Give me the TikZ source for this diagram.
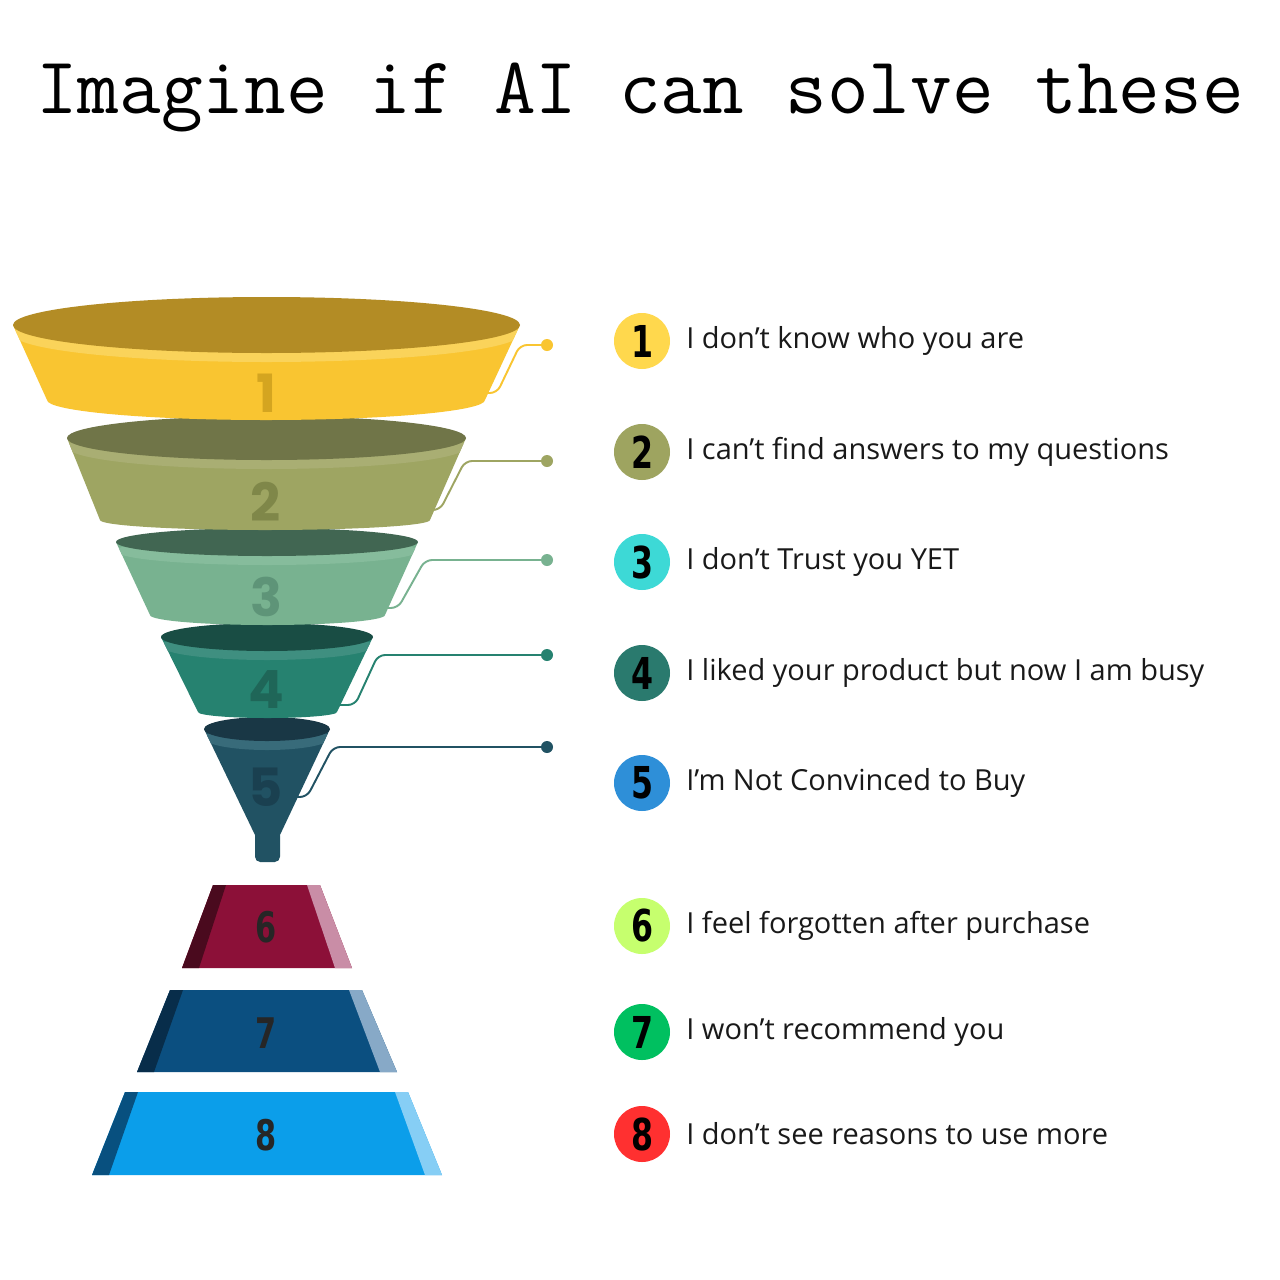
\documentclass[tikz,border=0pt]{standalone}
\usepackage{fontspec}
\setmainfont{Open Sans}
\newfontfamily\numfont[FakeStretch=0.72]{DejaVu Sans}
\newfontfamily\funfont{Poppins}
\begin{document}
\begin{tikzpicture}[x=0.2mm,y=-0.2mm,
  lead/.style={line width=1.1pt,rounded corners=4pt},
  cnum/.style={circle,minimum size=11.2mm,inner sep=0pt,font=\numfont\bfseries\fontsize{25}{25}\selectfont,text=black},
  lbl/.style={anchor=west,inner sep=0pt,font=\fontsize{16.5}{18}\selectfont,text=black!90},
  fnum/.style={font=\funfont\bfseries\fontsize{30}{30}\selectfont},
  pnum/.style={font=\numfont\bfseries\fontsize{24}{24}\selectfont,text=black!85}]
\useasboundingbox[fill=white] (0,0) rectangle (1280,1280);
\node (title) at (640,97) {\ttfamily\fontsize{46}{46}\selectfont Imagine if AI can solve these};
\newcommand{\funseg}[9]{%
  \begin{scope}
  \path[clip] (#2,#1) -- (#6,#5) arc[start angle=180,end angle=0,x radius={(#7-#6)/2},y radius=#8] -- (#3,#1) -- cycle;
  \fill[#9body] (#2,#1-50) rectangle (#3,#5+40);
  \fill[#9band] ({(#2+#3)/2},#1+9) ellipse[x radius={(#3-#2)/2},y radius=#4];
  \end{scope}
  \fill[#9top] ({(#2+#3)/2},#1) ellipse[x radius={(#3-#2)/2},y radius=#4];}
\definecolor{Abody}{HTML}{F9C531}\definecolor{Atop}{HTML}{B38C25}\definecolor{Aband}{HTML}{FAD35A}\definecolor{Anum}{HTML}{D4A520}
\definecolor{Bbody}{HTML}{9EA562}\definecolor{Btop}{HTML}{707548}\definecolor{Bband}{HTML}{A9AE73}\definecolor{Bnum}{HTML}{7F8749}
\definecolor{Cbody}{HTML}{78B290}\definecolor{Ctop}{HTML}{416652}\definecolor{Cband}{HTML}{86BC9C}\definecolor{Cnum}{HTML}{5E9478}
\definecolor{Dbody}{HTML}{268270}\definecolor{Dtop}{HTML}{194D44}\definecolor{Dband}{HTML}{3F8F80}\definecolor{Dnum}{HTML}{1F6658}
\definecolor{Ebody}{HTML}{215263}\definecolor{Etop}{HTML}{193745}\definecolor{Eband}{HTML}{386B7A}\definecolor{Enum}{HTML}{1A4050}
\definecolor{Fm}{HTML}{8C1038}\definecolor{Fd}{HTML}{4A0A1E}\definecolor{Fl}{HTML}{C98DA6}
\definecolor{Gm}{HTML}{0B4F80}\definecolor{Gd}{HTML}{082D4A}\definecolor{Gl}{HTML}{87A9C7}
\definecolor{Hm}{HTML}{0B9EEA}\definecolor{Hd}{HTML}{08507F}\definecolor{Hl}{HTML}{86CEF5}
\fill[Ebody,rounded corners=3pt] (255,830) -- (255,862) -- (280,862) -- (280,830) -- cycle;
\funseg{729}{204}{330}{12}{835}{255}{280}{3}{E}
\funseg{637}{161}{373}{14}{712}{198}{337}{6}{D}
\funseg{542}{116}{418}{14}{615}{150}{385}{10}{C}
\funseg{438}{67}{466}{22}{520}{100}{430}{10}{B}
\funseg{325}{13}{520}{28}{400}{47}{485}{20}{A}
\node[fnum,text=Anum] (f1) at (266,393) {1};
\node[fnum,text=Bnum] (f2) at (266,502) {2};
\node[fnum,text=Cnum] (f3) at (266,597) {3};
\node[fnum,text=Dnum] (f4) at (266,690) {4};
\node[fnum,text=Enum] (f5) at (266,787) {5};
\coordinate (a1) at (485,393); \coordinate (d1) at (547,345);
\coordinate (a2) at (430,510); \coordinate (d2) at (547,461);
\coordinate (a3) at (385,608); \coordinate (d3) at (547,560);
\coordinate (a4) at (340,705); \coordinate (d4) at (547,655);
\coordinate (a5) at (297,797); \coordinate (d5) at (547,747);
\draw[lead,Abody] (a1) -- (497,393) -- (520,345) -- (d1); \fill[Abody] (d1) circle[radius=6];
\draw[lead,Bbody] (a2) -- (440,510) -- (465,461) -- (d2); \fill[Bbody] (d2) circle[radius=6];
\draw[lead,Cbody] (a3) -- (398,608) -- (425,560) -- (d3); \fill[Cbody] (d3) circle[radius=6];
\draw[lead,Dbody] (a4) -- (355,705) -- (378,655) -- (d4); \fill[Dbody] (d4) circle[radius=6];
\draw[lead,Ebody] (a5) -- (307,797) -- (333,747) -- (d5); \fill[Ebody] (d5) circle[radius=6];
\newcommand{\pyr}[9]{%
  \fill[#7] (#3,#1) -- (#4,#1) -- (#6,#2) -- (#5,#2) -- cycle;
  \fill[#8] (#3,#1) -- (#3+13,#1) -- (#5+17,#2) -- (#5,#2) -- cycle;
  \fill[#9] (#4-13,#1) -- (#4,#1) -- (#6,#2) -- (#6-17,#2) -- cycle;}
\pyr{885}{968}{213}{320}{182}{352}{Fm}{Fd}{Fl}
\pyr{990}{1072}{170}{362}{137}{397}{Gm}{Gd}{Gl}
\pyr{1092}{1175}{125}{408}{92}{442}{Hm}{Hd}{Hl}
\node[pnum] (p6) at (266,927) {6};
\node[pnum] (p7) at (266,1033) {7};
\node[pnum] (p8) at (266,1135) {8};
\foreach \i/\y/\c/\t in {1/341/FFD84D/{I don't know who you are},
  2/452/9EA460/{I can’t find answers to my questions},
  3/562/3DD9D6/{I don’t Trust you YET},
  4/673/2A7A6E/{I liked your product but now I am busy},
  5/783/2E8FD8/{I'm Not Convinced to Buy},
  6/926/C6FF6E/{I feel forgotten after purchase},
  7/1032/00C060/{I won't recommend you},
  8/1134/FF3030/{I don't see reasons to use more}}{
  \definecolor{cc}{HTML}{\c}
  \node[cnum,fill=cc] (c\i) at (642,\y) {\i};
  \node[lbl] (t\i) at (686,\y) {\t};
}
\end{tikzpicture}
\end{document}
